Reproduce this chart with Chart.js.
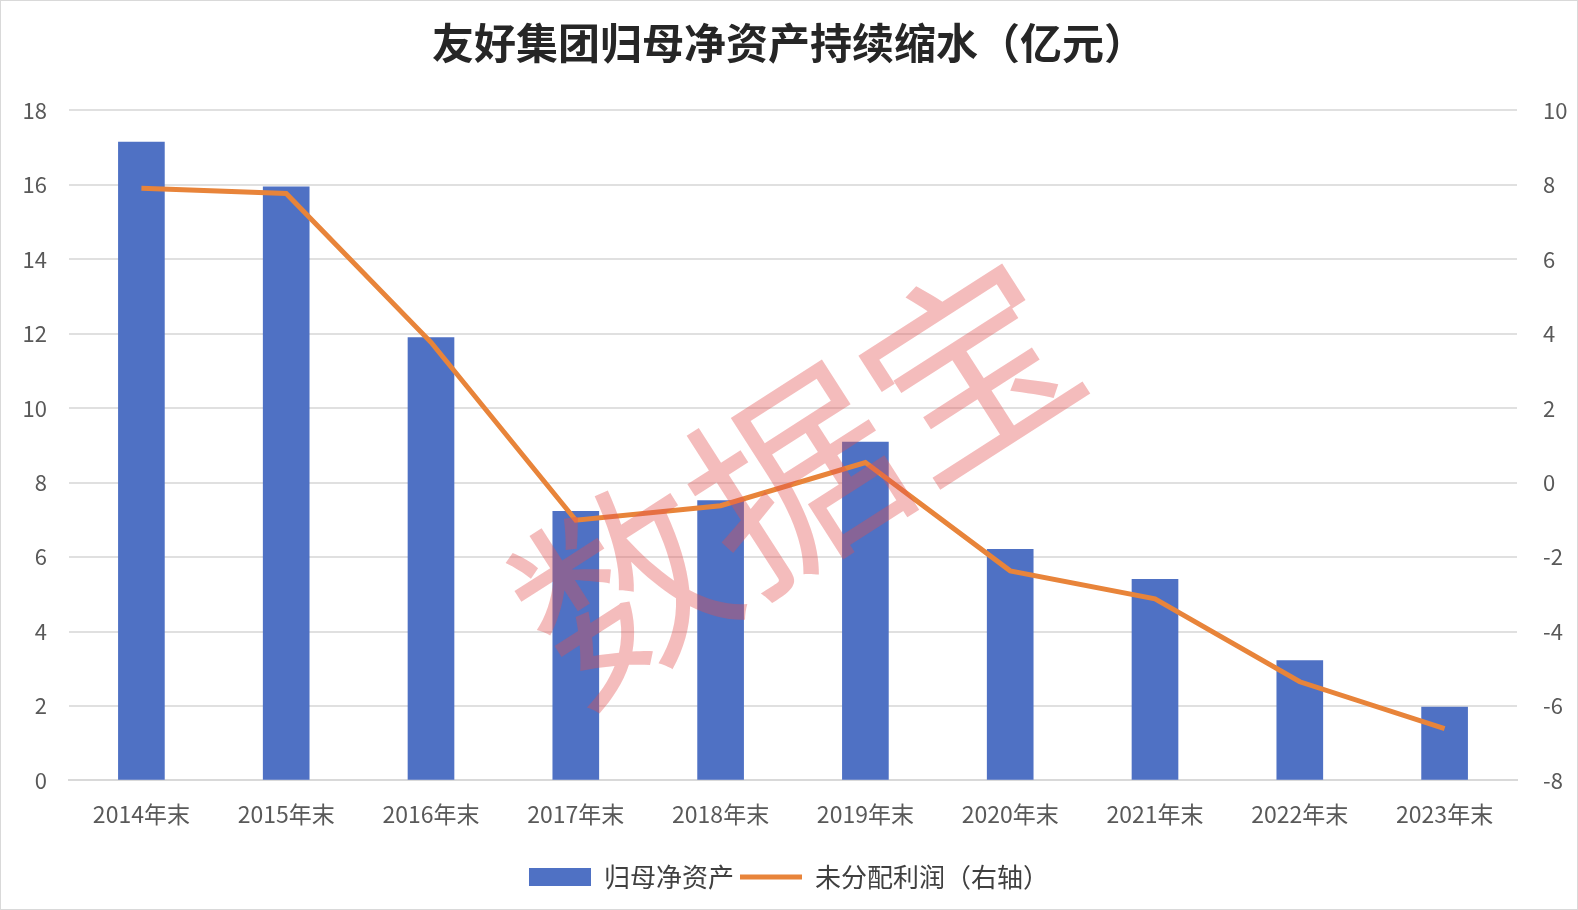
<!DOCTYPE html>
<html>
<head>
<meta charset="utf-8">
<script src="https://cdn.jsdelivr.net/npm/chart.js@4.4.1/dist/chart.umd.min.js"></script>
<style>
  html, body { margin: 0; padding: 0; background: #fff; }
  #wrap { width: 1578px; height: 910px; }
</style>
</head>
<body>
<div id="wrap"><canvas id="chart" width="1578" height="910"></canvas></div>
<script>
// data
const years = ["2014年末", "2015年末", "2016年末", "2017年末", "2018年末",
  "2019年末", "2020年末", "2021年末", "2022年末", "2023年末"];
const netAssets = [17.15, 15.95, 11.9, 7.23, 7.52, 9.09, 6.21, 5.4, 3.22, 1.97];
const undistributed = [7.91, 7.77, 3.77, -1.01, -0.62, 0.54, -2.37, -3.12, -5.35, -6.61];

const FONT = '"Noto Sans CJK SC", "Noto Sans", sans-serif';

// watermark + thin frame
const extras = {
  id: "extras",
  afterDatasetsDraw(chart) {
    const ctx = chart.ctx;
    ctx.save();
    ctx.translate(795, 478);
    ctx.rotate(-0.57);
    ctx.font = "205px " + FONT;
    ctx.fillStyle = "rgba(225, 80, 80, 0.38)";
    ctx.textAlign = "center";
    ctx.textBaseline = "middle";
    ctx.fillText("数据宝", 0, 0);
    ctx.restore();
  },
  afterDraw(chart) {
    const ctx = chart.ctx;
    ctx.save();
    ctx.strokeStyle = "#d9d9d9";
    ctx.lineWidth = 1;
    ctx.strokeRect(0.5, 0.5, chart.width - 1, chart.height - 1);
    ctx.restore();
  }
};

new Chart(document.getElementById("chart"), {
  data: {
    labels: years,
    datasets: [
      {
        type: "line",
        label: "未分配利润（右轴）",
        data: undistributed,
        yAxisID: "y1",
        borderColor: "#e8843a",
        backgroundColor: "#e8843a",
        borderWidth: 5,
        pointRadius: 0,
        pointStyle: "line",
        tension: 0,
        order: 0
      },
      {
        type: "bar",
        label: "归母净资产",
        data: netAssets,
        yAxisID: "y",
        backgroundColor: "#4f71c4",
        borderWidth: 0,
        pointStyle: "rect",
        barThickness: 46,
        order: 1
      }
    ]
  },
  options: {
    responsive: false,
    animation: false,
    layout: { padding: { left: 0, right: 0, top: 0, bottom: 10 } },
    plugins: {
      title: {
        display: true,
        text: "友好集团归母净资产持续缩水（亿元）",
        color: "#262626",
        font: { family: FONT, size: 42, weight: "bold" },
        padding: { top: 18, bottom: 42 }
      },
      legend: {
        position: "bottom",
        reverse: true,
        labels: {
          usePointStyle: true,
          pointStyleWidth: 62,
          boxHeight: 18,
          color: "#404040",
          font: { family: FONT, size: 26 },
          padding: 6
        }
      },
      tooltip: { enabled: false }
    },
    scales: {
      x: {
        grid: { display: false },
        border: { color: "#d9d9d9", width: 2 },
        ticks: { color: "#595959", font: { family: FONT, size: 23 }, padding: 12 },
        afterFit(scale) { scale.height += 18; }
      },
      y: {
        position: "left",
        min: 0,
        max: 18,
        ticks: { stepSize: 2, color: "#595959", font: { family: FONT, size: 22 }, padding: 22 },
        grid: { color: "#e0e0e0", lineWidth: 2, drawTicks: false },
        border: { display: false },
        afterFit(scale) { scale.width = 69; }
      },
      y1: {
        position: "right",
        min: -8,
        max: 10,
        ticks: { stepSize: 2, color: "#595959", font: { family: FONT, size: 22 }, padding: 18 },
        grid: { display: false },
        border: { display: false },
        afterFit(scale) { scale.width = 61; }
      }
    }
  },
  plugins: [extras]
});
</script>
</body>
</html>
